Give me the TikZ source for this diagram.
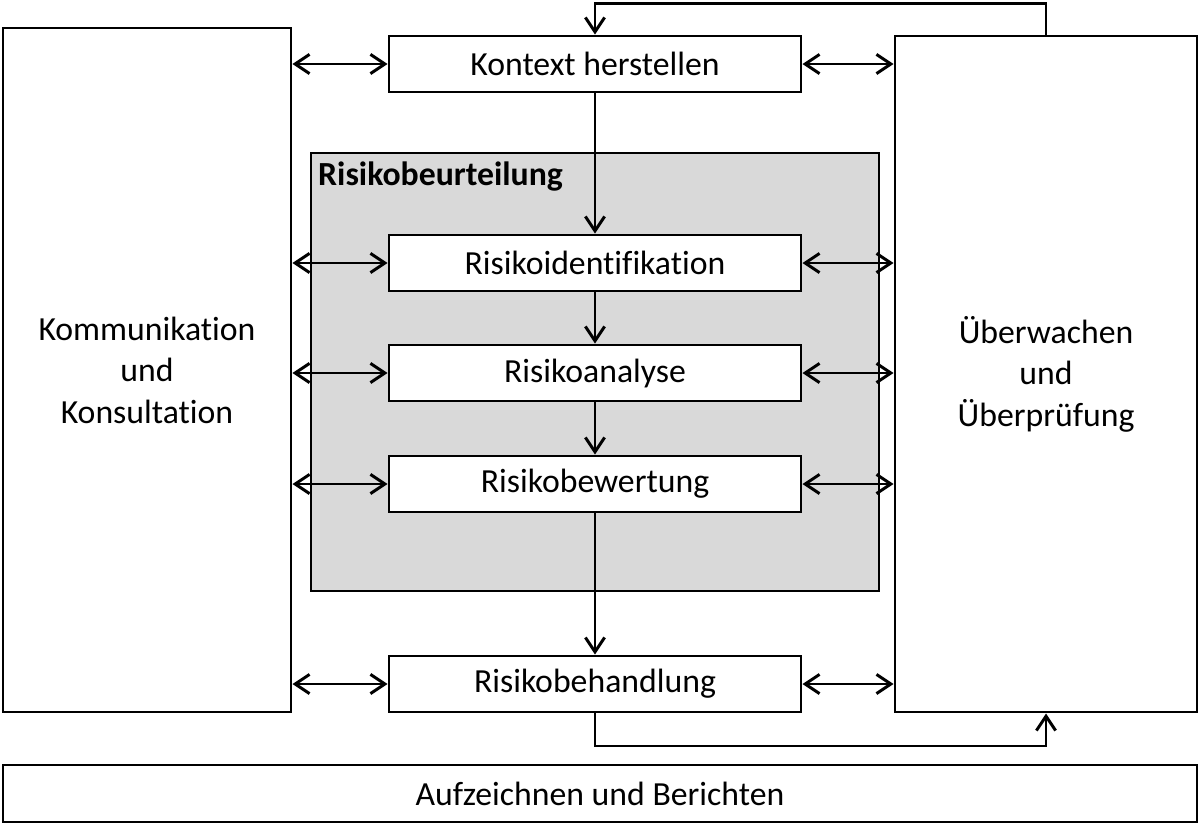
\documentclass[tikz,border=0pt]{standalone}
\usepackage{fontspec}
\setmainfont[Ligatures=NoCommon]{Carlito}
\definecolor{riskgray}{RGB}{217, 217, 217}
\usepackage{tikz}
\usetikzlibrary{arrows.meta, positioning, calc}

\begin{document}
\begin{tikzpicture}[
  line width=2.1pt,
  pbox/.style={draw, fill=white, minimum width=10.3cm, minimum height=1.4cm, inner sep=0pt, font=\fontsize{24}{29}\selectfont},
  sidebox/.style={draw, fill=white, inner sep=0pt, align=center, font=\fontsize{24}{29.5}\selectfont},
  arr/.style={-{Straight Barb[length=3.6mm, width=4.8mm, line width=2.1pt]}},
  dbl/.style={{Straight Barb[length=3.6mm, width=4.8mm, line width=2.1pt]}-{Straight Barb[length=3.6mm, width=4.8mm, line width=2.1pt]}}
]
  \useasboundingbox (0,0) rectangle (30,-20.8);

  % Risikobeurteilung
  \node[draw, fill=riskgray, minimum width=14.2cm, minimum height=10.95cm, inner sep=0pt] (beurt) at (14.875,-9.3) {};
  \node[anchor=north west, font=\fontsize{24}{29}\selectfont\bfseries, inner sep=0pt] (beurtlabel) at ($(beurt.north west)+(0.18,-0.22)$) {Risikobeurteilung};

  % side boxes
  \node[sidebox, minimum width=7.2cm, minimum height=17.1cm] (komm) at (3.675,-9.25) {Kommunikation\\und\\Konsultation};
  \node[sidebox, minimum width=7.55cm, minimum height=16.9cm] (ueber) at (26.15,-9.35) {Überwachen\\und\\Überprüfung};

  % process steps
  \node[pbox] (kontext) at (14.875,-1.6) {Kontext herstellen};
  \node[pbox] (ident) at (14.875,-6.575) {Risikoidentifikation};
  \node[pbox] (analyse) at (14.875,-9.325) {Risikoanalyse};
  \node[pbox] (bewert) at (14.875,-12.1) {Risikobewertung};
  \node[pbox] (behand) at (14.875,-17.1) {Risikobehandlung};

  \node[pbox, minimum width=29.85cm, minimum height=1.425cm] (bericht) at (15,-19.8375) {Aufzeichnen und Berichten};

  % main flow
  \draw[arr] (kontext) -- (ident);
  \draw[arr] (ident) -- (analyse);
  \draw[arr] (analyse) -- (bewert);
  \draw[arr] (bewert) -- (behand);

  % links to the side boxes
  \foreach \n in {kontext, ident, analyse, bewert, behand} {
    \draw[dbl] (komm.east |- \n) -- (\n.west);
    \draw[dbl] (\n.east) -- (ueber.west |- \n);
  }

  % feedback loops
  \coordinate (looptop) at (0,-0.08);
  \coordinate (loopbot) at (0,-18.65);
  \draw[arr] (ueber.north) -- (ueber.north |- looptop) -- (kontext.north |- looptop) -- (kontext.north);
  \draw[arr] (behand.south) -- (behand.south |- loopbot) -- (ueber.south |- loopbot) -- (ueber.south);
\end{tikzpicture}
\end{document}
